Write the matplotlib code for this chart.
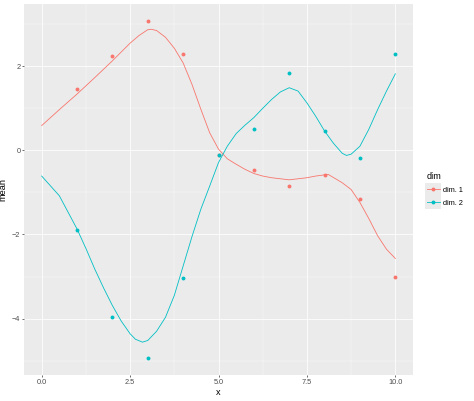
import matplotlib.pyplot as plt
from matplotlib.lines import Line2D
from matplotlib.patches import Rectangle

# observed points
x_obs = [1, 2, 3, 4, 5, 6, 7, 8, 9, 10]
dim1_obs = [1.45, 2.24, 3.08, 2.30, -0.10, -0.47, -0.85, -0.59, -1.16, -3.00]
dim2_obs = [-1.90, -3.95, -4.94, -3.03, -0.11, 0.50, 1.84, 0.45, -0.17, 2.29]

# fitted mean curves
x_fit1 = [0, 0.5, 1, 1.5, 2, 2.5, 2.75, 3, 3.1, 3.25, 3.5, 3.75, 4, 4.25, 4.5, 4.75, 5, 5.25,
          5.5, 5.75, 6, 6.25, 6.5, 7, 7.5, 7.75, 8.1, 8.5, 8.75, 9, 9.25, 9.5, 9.75, 10]
dim1_fit = [0.59, 0.97, 1.34, 1.73, 2.13, 2.55, 2.73, 2.87, 2.88, 2.85, 2.69, 2.43, 2.08, 1.57,
            0.98, 0.42, 0.03, -0.20, -0.33, -0.45, -0.55, -0.61, -0.65, -0.70, -0.65, -0.61,
            -0.57, -0.77, -0.93, -1.24, -1.62, -2.03, -2.35, -2.57]
x_fit2 = [0, 0.5, 1, 1.25, 1.5, 1.75, 2, 2.25, 2.5, 2.65, 2.85, 3, 3.25, 3.5, 3.75, 4, 4.25,
          4.5, 4.75, 5, 5.25, 5.5, 5.75, 6, 6.25, 6.5, 6.75, 7, 7.25, 7.5, 7.75, 8, 8.25, 8.5,
          8.62, 8.75, 9, 9.25, 9.5, 9.75, 10]
dim2_fit = [-0.61, -1.08, -1.87, -2.33, -2.82, -3.27, -3.69, -4.06, -4.36, -4.49, -4.56, -4.52,
            -4.30, -3.97, -3.45, -2.75, -2.05, -1.40, -0.85, -0.29, 0.10, 0.40, 0.60, 0.78, 1.00,
            1.21, 1.39, 1.49, 1.41, 1.13, 0.81, 0.46, 0.17, -0.07, -0.12, -0.09, 0.10, 0.50, 0.97,
            1.41, 1.82]

labels = ['dim. 1', 'dim. 2']
colors = ['#F8766D', '#00BFC4']

plt.rcParams['font.family'] = ['Liberation Sans', 'DejaVu Sans']

fig = plt.figure(figsize=(4.74, 4.01), dpi=100)
ax = fig.add_axes([24 / 474, 1 - 375 / 401, 389 / 474, 371 / 401])
ax.set_facecolor('#EBEBEB')
for s in ax.spines.values():
    s.set_visible(False)

ax.plot(x_fit1, dim1_fit, color=colors[0], lw=0.6)
ax.plot(x_fit2, dim2_fit, color=colors[1], lw=0.6)
ax.plot(x_obs, dim1_obs, 'o', color=colors[0], ms=2.8, mew=0)
ax.plot(x_obs, dim2_obs, 'o', color=colors[1], ms=2.8, mew=0)
ax.margins(x=0.05, y=0.05)

ax.set_xticks([0, 2.5, 5, 7.5, 10])
ax.set_xticklabels(['0.0', '2.5', '5.0', '7.5', '10.0'])
ax.set_xticks([1.25, 3.75, 6.25, 8.75], minor=True)
ax.set_yticks([-4, -2, 0, 2])
ax.set_yticks([-5, -3, -1, 1, 3], minor=True)
ax.grid(which='major', color='white', lw=0.55)
ax.grid(which='minor', color='white', lw=0.28)
ax.set_axisbelow(True)
ax.tick_params(which='major', length=1.4, width=0.5, color='#333333', labelsize=5.3,
               labelcolor='#4D4D4D', pad=1.2)
ax.tick_params(which='minor', length=0)

ax.set_xlabel('x', fontsize=6.6, labelpad=2)
ax.set_ylabel('mean', fontsize=6.6, labelpad=3)

handles = [Line2D([], [], color=c, lw=0.6, marker='o', ms=2.8, mew=0) for c in colors]
leg = fig.legend(handles, labels, title='dim', loc='center left',
                 bbox_to_anchor=(427 / 474, 1 - 189.5 / 401), frameon=False,
                 fontsize=5.3, title_fontsize=6.6, handlelength=1.7, handletextpad=0.5,
                 labelspacing=0.75, borderpad=0, borderaxespad=0, alignment='left')
leg.set_zorder(5)

# grey key backgrounds like ggplot
fig.canvas.draw()
r = fig.canvas.get_renderer()
inv = fig.transFigure.inverted()
for ln in leg.get_lines():
    bb = ln.get_window_extent(r)
    cy = (bb.y0 + bb.y1) / 2
    (x0, y0) = inv.transform((bb.x0, cy - 6.5))
    (x1, y1) = inv.transform((bb.x1, cy + 6.5))
    fig.add_artist(Rectangle((x0, y0), x1 - x0, y1 - y0, facecolor='#EBEBEB',
                             edgecolor='none', transform=fig.transFigure, zorder=2))

fig.savefig('out.png', dpi=100)
